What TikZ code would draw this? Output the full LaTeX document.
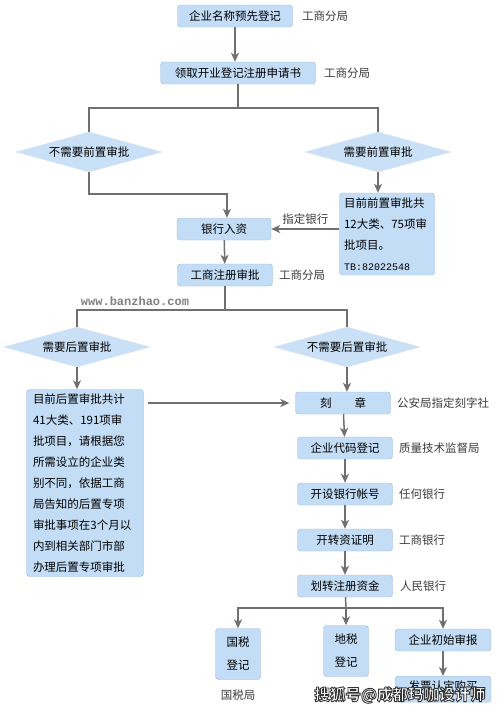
\documentclass[tikz,border=0pt]{standalone}
\usepackage{fontspec}
\setmainfont{Noto Sans CJK SC}
\newfontfamily\webfont{Liberation Mono}
\usetikzlibrary{positioning,shapes.geometric,arrows.meta}
\definecolor{boxfill}{HTML}{C3DDF6}
\definecolor{boxline}{HTML}{9CB6DE}
\definecolor{linegray}{HTML}{707070}
\definecolor{notegray}{HTML}{3C3C3C}

\begin{document}
\begin{tikzpicture}[x=1pt, y=-1pt, >={Stealth[length=9pt,width=8pt,inset=2.5pt]},
  every node/.style={font=\fontsize{11.5}{21}\selectfont},
  stepbox/.style={draw=boxline, fill=boxfill, rounded corners=3pt, minimum width=95pt, minimum height=22pt, inner sep=2pt},
  choice/.style={diamond, fill=boxfill!90, draw=boxline!40, aspect=3.6, inner sep=0pt, minimum width=146pt, minimum height=40pt},
  note/.style={text=notegray},
  link/.style={draw=linegray, line width=1.5pt},
  flow/.style={link, ->}]
  \useasboundingbox (0,0) rectangle (500,716);

  % top part
  \node[stepbox, minimum width=115pt] (name) at (235,16) {企业名称预先登记};
  \node[note, right=6pt of name] {工商分局};
  \node[stepbox, minimum width=155pt] (form) at (238,73) {领取开业登记注册申请书};
  \node[note, right=5pt of form] {工商分局};

  \node[choice] (nopre) at (89,152) {不需要前置审批};
  \node[choice] (pre) at (378,152) {需要前置审批};
  \node[stepbox, minimum height=82pt, align=left, text width=86pt] (prelist) at (387,234)
    {目前前置审批共\\12大类、75项审\\批项目。\\{\webfont\fontsize{10}{21}\selectfont TB:82022548}};

  \node[stepbox, minimum width=94pt] (bank) at (224,229) {银行入资};
  \node[stepbox] (reg) at (225,275) {工商注册审批};
  \node[note, right=3pt of reg] {工商分局};
  \node[text=gray, font=\webfont\bfseries\fontsize{12}{14}\selectfont] (site) at (135,301) {www.banzhao.com};

  % after registration
  \node[choice] (post) at (77,347) {需要后置审批};
  \node[choice] (nopost) at (347,347) {不需要后置审批};
  \node[stepbox, minimum width=117pt, minimum height=187pt, align=left, text width=104pt] (postlist) at (85,483)
    {目前后置审批共计\\41大类、191项审\\批项目，请根据您\\所需设立的企业类\\别不同，依据工商\\局告知的后置专项\\审批事项在3个月以\\内到相关部门市部\\办理后置专项审批};

  \node[stepbox] (seal) at (343,403) {刻\hspace{2em}章};
  \node[note, right=3pt of seal] {公安局指定刻字社};
  \node[stepbox] (code) at (345,448) {企业代码登记};
  \node[note, right=3pt of code] {质量技术监督局};
  \node[stepbox] (acct) at (345,494) {开设银行帐号};
  \node[note, right=3pt of acct] {任何银行};
  \node[stepbox] (cert) at (345,540) {开转资证明};
  \node[note, right=3pt of cert] {工商银行};
  \node[stepbox] (fund) at (345,586) {划转注册资金};
  \node[note, right=4pt of fund] {人民银行};

  % tax and invoice
  \node[stepbox, minimum width=45pt, minimum height=51pt, align=center, font=\fontsize{11.5}{23}\selectfont] (natax) at (238,654) {国税\\登记};
  \node[note, below=7pt of natax] {国税局};
  \node[stepbox, minimum width=45pt, minimum height=51pt, align=center, font=\fontsize{11.5}{23}\selectfont] (lotax) at (346,651) {地税\\登记};
  \node[stepbox, minimum width=96pt] (init) at (443,640) {企业初始审报};
  \node[stepbox, minimum width=96pt, minimum height=26pt, anchor=north, text depth=8pt] (inv) at (443,676) {发票认定购买};

  \coordinate (split1) at (238,108);
  \coordinate (join1) at (89,194);
  \coordinate (split2) at (225,310);
  \coordinate (split3) at (346,608);

  \draw[flow] (name.south) -- (name.south|-form.north);
  \draw[link] (form) -- (split1);
  \draw[link] (split1) -| (nopre.north);
  \draw[link] (split1) -| (pre.north);
  \draw[flow] (nopre.south) -- (join1) -| ([xshift=3pt]bank.north);
  \draw[flow] (pre.south) -- (pre.south|-prelist.north);
  \draw[flow] (prelist.west|-bank) -- (bank.east) node[midway, above, note] {指定银行};
  \draw[flow] (bank) -- (reg);

  \draw[link] (reg) -- (split2);
  \draw[link] (split2) -| (post.north);
  \draw[link] (split2) -| (nopost.north);
  \draw[flow] (post.south) -- (post.south|-postlist.north);
  \draw[flow] (nopost.south) -- (nopost.south|-seal.north);
  \draw[flow] ([xshift=4pt]postlist.east|-seal) -- ([xshift=-6pt]seal.west);
  \draw[flow] (seal) -- (code);
  \draw[flow] (code) -- (acct);
  \draw[flow] (acct) -- (cert);
  \draw[flow] (cert) -- (fund);

  \draw[link] (fund) -- (split3);
  \draw[flow] (split3) -| (natax.north);
  \draw[flow] (split3) -- (lotax.north);
  \draw[flow] (split3) -| (init.north);
  \draw[flow] (init) -- (inv);

  % watermark
  \node[text=white, font=\bfseries\fontsize{15.5}{20}\selectfont] (mark) at (400,695)
    {\special{pdf:literal direct 2 Tr 0.9 w 0.2 0.2 0.2 RG}搜狐号@成都玛咖设计师\special{pdf:literal direct 0 Tr}};
\end{tikzpicture}
\end{document}
